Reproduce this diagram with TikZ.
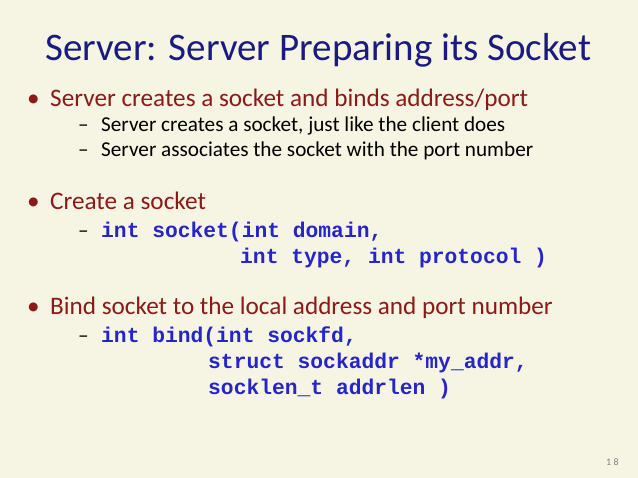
\documentclass[tikz,border=0pt]{standalone}
\usepackage{fontspec}
\setmainfont{Carlito}
\newfontfamily\codefont{Liberation Mono}
\definecolor{bg}{HTML}{F6F4E2}
\definecolor{ttl}{HTML}{1A1A80}
\definecolor{red1}{HTML}{8B1A1A}
\definecolor{code}{HTML}{2626C8}
\tikzset{
 t/.style={anchor=base west,inner sep=0pt},
 title/.style={t,text=ttl,font=\fontsize{39}{44}\selectfont},
 b1/.style={t,text=red1,font=\fontsize{25.2}{30}\selectfont},
 b2/.style={t,text=black,font=\fontsize{21.2}{25}\selectfont},
 cd/.style={t,text=code,font=\codefont\bfseries\fontsize{21.3}{25}\selectfont},
}
\begin{document}
\begin{tikzpicture}[x=1pt,y=-1pt]
\fill[bg] (0,0) rectangle (638,478);
\useasboundingbox (0,0) rectangle (638,478);
\node[title] (ti) at (45,61) {Server: Server Preparing its Socket};
\node[b1] (d1) at (27,107) {•};
\node[b1] (l1) at (50,107) {Server creates a socket and binds address/port};
\node[b2] (s1) at (78,132) {–};
\node[b2] (l2) at (101,132) {Server creates a socket, just like the client does};
\node[b2] (s2) at (78,157) {–};
\node[b2] (l3) at (101,157) {Server associates the socket with the port number};
\node[b1] (d2) at (27,210) {•};
\node[b1] (l4) at (50,210) {Create a socket};
\node[b2] (s3) at (78,238) {–};
\node[cd] (c1) at (101,238) {int socket(int domain,};
\node[cd] (c2) at (240,264) {int type, int protocol )};
\node[b1] (d3) at (27,315) {•};
\node[b1] (l5) at (50,315) {Bind socket to the local address and port number};
\node[b2] (s4) at (78,343) {–};
\node[cd] (c3) at (101,343) {int bind(int sockfd,};
\node[cd] (c4) at (208,369) {struct sockaddr *my\_addr,};
\node[cd] (c5) at (208,395) {socklen\_t addrlen )};
\node[t,text=gray,font=\fontsize{10}{12}\selectfont] (pn) at (606,466) {1 8};
\end{tikzpicture}
\end{document}
